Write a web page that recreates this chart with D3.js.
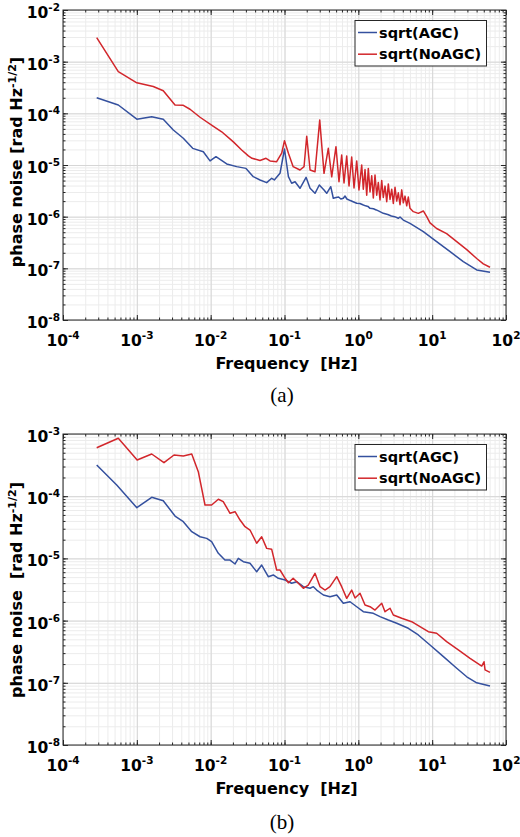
<!DOCTYPE html>
<html>
<head>
<meta charset="utf-8">
<script src="https://cdn.jsdelivr.net/npm/d3@7"></script>
<style>
  body { margin: 0; background: #fff; }
  svg text { font-family: "DejaVu Sans", sans-serif; font-weight: bold; fill: #000; white-space: pre; }
  .grid path.domain, .ticks path.domain { display: none; }
  .grid.minor line { stroke: #ececec; }
  .grid.major line { stroke: #d6d6d6; }
  .ticks line { stroke: #262626; }
</style>
</head>
<body>
<div id="chart"></div>
<script>
const WIDTH = 520, HEIGHT = 837;

// axis ticks
const xTicks = [1e-4, 1e-3, 1e-2, 1e-1, 1e0, 1e1, 1e2];
const xTickExp = ['-4', '-3', '-2', '-1', '0', '1', '2'];
const yTicksA = [1e-8, 1e-7, 1e-6, 1e-5, 1e-4, 1e-3, 1e-2];
const yTickExpA = ['-8', '-7', '-6', '-5', '-4', '-3', '-2'];
const yTicksB = [1e-8, 1e-7, 1e-6, 1e-5, 1e-4, 1e-3];
const yTickExpB = ['-8', '-7', '-6', '-5', '-4', '-3'];

const seriesNames = ['sqrt(AGC)', 'sqrt(NoAGC)'];
const seriesColors = ['#34509e', '#d2262b'];

// panel (a), AGC
const freqAgcA = [2.86e-4, 5.61e-4, 1.0e-3, 1.59e-3, 2.28e-3, 3.12e-3, 4.26e-3, 5.71e-3, 7.95e-3, 9.8e-3,
  1.18e-2, 1.65e-2, 2.25e-2, 3.01e-2, 3.78e-2, 4.66e-2, 5.74e-2, 6.71e-2, 7.28e-2, 8.69e-2,
  0.100, 0.113, 0.125, 0.139, 0.162, 0.196, 0.222, 0.259, 0.296, 0.343,
  0.373, 0.423, 0.458, 0.50, 0.54, 0.58, 0.626, 0.66, 0.70, 0.78,
  0.85, 0.951, 1.05, 1.15, 1.25, 1.35, 1.44, 1.6, 1.75, 1.9,
  2.179, 2.5, 2.8, 3.1, 3.479, 3.669, 4.067, 5.01, 7.59, 11.5,
  17.5, 26.4, 40.1, 60.7];
const agcA = [2.01e-4, 1.45e-4, 7.7e-5, 8.6e-5, 7.7e-5, 4.76e-5, 3.29e-5, 2.1e-5, 1.81e-5, 1.2e-5,
  1.45e-5, 1.05e-5, 9.3e-6, 8.6e-6, 5.94e-6, 5.13e-6, 4.55e-6, 5.53e-6, 5.13e-6, 6.91e-6,
  2.04e-5, 5.94e-6, 4.43e-6, 4.75e-6, 3.54e-6, 5.78e-6, 3.54e-6, 2.83e-6, 4.1e-6, 3.28e-6,
  2.83e-6, 3.8e-6, 2.27e-6, 2.35e-6, 2.4e-6, 2.2e-6, 2.27e-6, 2.51e-6, 2.2e-6, 2.05e-6,
  1.95e-6, 1.82e-6, 1.8e-6, 1.7e-6, 1.62e-6, 1.58e-6, 1.45e-6, 1.42e-6, 1.35e-6, 1.28e-6,
  1.16e-6, 1.1e-6, 1.03e-6, 1.0e-6, 9.3e-7, 9.86e-7, 8.6e-7, 7.4e-7, 5.12e-7, 3.28e-7,
  2.1e-7, 1.35e-7, 9.3e-8, 8.4e-8];

// panel (a), NoAGC
const freqNoAgcA = [2.86e-4, 5.61e-4, 1.0e-3, 1.67e-3, 2.28e-3, 3.29e-3, 4.26e-3, 5.25e-3, 7.18e-3, 1.09e-2,
  1.41e-2, 2.03e-2, 2.63e-2, 3.24e-2, 3.63e-2, 4.66e-2, 5.62e-2, 6.37e-2, 7.83e-2, 9.16e-2,
  0.100, 0.113, 0.131, 0.162, 0.184, 0.200, 0.222, 0.259, 0.300, 0.343,
  0.392, 0.436, 0.498, 0.547, 0.595, 0.640, 0.696, 0.748, 0.813, 0.874,
  0.951, 1.02, 1.111, 1.168, 1.232, 1.299, 1.365, 1.44, 1.518, 1.596,
  1.682, 1.774, 1.865, 1.966, 2.074, 2.179, 2.298, 2.424, 2.548, 2.687,
  2.833, 2.978, 3.14, 3.311, 3.479, 3.669, 3.869, 4.067, 4.289, 4.522,
  4.753, 5.01, 5.56, 6.49, 7.59, 8.44, 9.35, 11.5, 15.7, 21.5,
  29.4, 40.1, 49.3, 60.7];
const noAgcA = [2.91e-3, 6.4e-4, 3.9e-4, 3.3e-4, 2.74e-4, 1.45e-4, 1.43e-4, 1.2e-4, 8.4e-5, 5.6e-5,
  4.4e-5, 2.8e-5, 1.95e-5, 1.5e-5, 1.35e-5, 1.22e-5, 1.35e-5, 1.2e-5, 1.16e-5, 1.69e-5,
  2.95e-5, 1.69e-5, 9.3e-6, 8.0e-6, 9.3e-6, 3.6e-5, 8.0e-6, 7.4e-6, 7.4e-5, 6.9e-6,
  2.1e-5, 5.9e-6, 2.26e-5, 4.75e-6, 1.56e-5, 4.49e-6, 1.49e-5, 3.93e-6, 1.43e-5, 3.59e-6,
  1.2e-5, 3.28e-6, 1.0e-5, 3.4e-6, 8.2e-6, 2.6e-6, 8.6e-6, 3.0e-6, 6.2e-6, 2.3e-6,
  6.4e-6, 2.6e-6, 4.6e-6, 2.1e-6, 5.0e-6, 2.35e-6, 3.9e-6, 1.95e-6, 4.3e-6, 2.15e-6,
  3.4e-6, 1.8e-6, 3.7e-6, 2.0e-6, 2.9e-6, 1.7e-6, 3.3e-6, 1.85e-6, 2.5e-6, 1.62e-6,
  2.4e-6, 1.45e-6, 1.25e-6, 1.16e-6, 1.29e-6, 1.0e-6, 7.6e-7, 5.9e-7, 4.7e-7, 3.3e-7,
  2.3e-7, 1.55e-7, 1.22e-7, 1.05e-7];

// panel (b), AGC
const freqAgcB = [2.86e-4, 5.34e-4, 1.0e-3, 1.59e-3, 2.28e-3, 3.29e-3, 4.26e-3, 5.54e-3, 7.18e-3, 8.84e-3,
  1.03e-2, 1.27e-2, 1.56e-2, 1.83e-2, 2.14e-2, 2.37e-2, 2.77e-2, 3.41e-2, 4.2e-2, 4.91e-2,
  6.03e-2, 7.05e-2, 8.25e-2, 0.102, 0.125, 0.146, 0.18, 0.222, 0.246, 0.273,
  0.336, 0.413, 0.51, 0.626, 0.772, 0.951, 1.168, 1.596, 1.966, 2.548,
  3.311, 4.753, 6.49, 9.35, 14.2, 21.5, 29.4, 40.1, 60.7];
const agcB = [3.17e-4, 1.51e-4, 6.53e-5, 9.6e-5, 8.46e-5, 4.8e-5, 3.89e-5, 2.69e-5, 2.23e-5, 2.1e-5,
  1.86e-5, 1.21e-5, 9.4e-6, 9.4e-6, 8.13e-6, 1.0e-5, 8.85e-6, 8.34e-6, 6.11e-6, 7.83e-6,
  5.08e-6, 5.41e-6, 4.79e-6, 4.5e-6, 3.98e-6, 4.22e-6, 3.51e-6, 3.31e-6, 3.51e-6, 3.1e-6,
  2.58e-6, 2.42e-6, 2.58e-6, 1.9e-6, 2.01e-6, 1.67e-6, 1.39e-6, 1.31e-6, 1.16e-6, 1.02e-6,
  9.05e-7, 7.52e-7, 5.87e-7, 4.05e-7, 2.63e-7, 1.71e-7, 1.25e-7, 1.0e-7, 8.9e-8];

// panel (b), NoAGC
const freqNoAgcB = [2.86e-4, 5.61e-4, 1.01e-3, 1.59e-3, 2.33e-3, 3.19e-3, 4.26e-3, 5.54e-3, 6.8e-3, 8.38e-3,
  1.03e-2, 1.27e-2, 1.48e-2, 1.83e-2, 2.14e-2, 2.5e-2, 2.92e-2, 3.41e-2, 4.2e-2, 4.91e-2,
  5.74e-2, 6.71e-2, 7.83e-2, 8.69e-2, 0.102, 0.113, 0.131, 0.154, 0.18, 0.21,
  0.259, 0.303, 0.354, 0.413, 0.51, 0.595, 0.696, 0.813, 0.902, 1.054,
  1.232, 1.44, 1.682, 2.074, 2.298, 2.687, 2.978, 3.869, 5.28, 6.84,
  8.87, 11.5, 15.7, 22.6, 32.6, 46.9, 50.4, 52.0, 60.7];
const noAgcB = [6.02e-4, 8.53e-4, 3.82e-4, 4.77e-4, 3.46e-4, 4.6e-4, 4.43e-4, 4.77e-4, 2.48e-4, 7.22e-5,
  7.22e-5, 8.92e-5, 8.16e-5, 5.31e-5, 5.63e-5, 4.14e-5, 3.23e-5, 2.86e-5, 1.75e-5, 2.23e-5,
  1.45e-5, 1.4e-5, 6.51e-6, 6.51e-6, 4.79e-6, 4.07e-6, 4.79e-6, 3.98e-6, 3.31e-6, 3.73e-6,
  5.76e-6, 3.51e-6, 3.1e-6, 3.51e-6, 5.08e-6, 3.51e-6, 2.28e-6, 3.1e-6, 2.31e-6, 2.75e-6,
  1.78e-6, 1.67e-6, 1.48e-6, 1.9e-6, 1.39e-6, 1.58e-6, 1.23e-6, 1.09e-6, 9.6e-7, 7.98e-7,
  6.63e-7, 6.25e-7, 4.58e-7, 3.37e-7, 2.48e-7, 1.86e-7, 2.18e-7, 1.61e-7, 1.47e-7];

const svg = d3.select('#chart').append('svg')
  .attr('width', WIDTH)
  .attr('height', HEIGHT);

function drawPanel(p) {
  const x = d3.scaleLog()
    .domain([xTicks[0], xTicks[xTicks.length - 1]])
    .range([p.left, p.right]);
  const y = d3.scaleLog()
    .domain([p.yTicks[0], p.yTicks[p.yTicks.length - 1]])
    .range([p.bottom, p.top]);
  const pw = p.right - p.left, ph = p.bottom - p.top;
  const g = svg.append('g');

  // grid, minor then major
  g.append('g').attr('class', 'grid minor')
    .attr('transform', `translate(0,${p.bottom})`)
    .call(d3.axisBottom(x).tickValues(x.ticks()).tickSize(-ph).tickFormat(''));
  g.append('g').attr('class', 'grid minor')
    .attr('transform', `translate(${p.left},0)`)
    .call(d3.axisLeft(y).tickValues(y.ticks()).tickSize(-pw).tickFormat(''));
  g.append('g').attr('class', 'grid major')
    .attr('transform', `translate(0,${p.bottom})`)
    .call(d3.axisBottom(x).tickValues(xTicks).tickSize(-ph).tickFormat(''));
  g.append('g').attr('class', 'grid major')
    .attr('transform', `translate(${p.left},0)`)
    .call(d3.axisLeft(y).tickValues(p.yTicks).tickSize(-pw).tickFormat(''));

  // curves
  const line = d3.line().x(d => x(d[0])).y(d => y(d[1]));
  p.series.forEach((s, i) => {
    g.append('path')
      .datum(d3.zip(s.freq, s.val))
      .attr('fill', 'none')
      .attr('stroke', seriesColors[i])
      .attr('stroke-width', 1.5)
      .attr('stroke-linejoin', 'round')
      .attr('d', line);
  });

  // inward ticks on all four sides
  const sides = [
    [d3.axisBottom, x, xTicks, `translate(0,${p.bottom})`],
    [d3.axisTop, x, xTicks, `translate(0,${p.top})`],
    [d3.axisLeft, y, p.yTicks, `translate(${p.left},0)`],
    [d3.axisRight, y, p.yTicks, `translate(${p.right},0)`]
  ];
  sides.forEach(([axis, sc, major, tr]) => {
    g.append('g').attr('class', 'ticks').attr('transform', tr)
      .call(axis(sc).tickValues(sc.ticks()).tickSize(-2.5).tickFormat(''));
    g.append('g').attr('class', 'ticks').attr('transform', tr)
      .call(axis(sc).tickValues(major).tickSize(-5).tickFormat(''));
  });

  // box
  g.append('rect')
    .attr('x', p.left).attr('y', p.top)
    .attr('width', pw).attr('height', ph)
    .attr('fill', 'none')
    .attr('stroke', '#262626')
    .attr('stroke-width', 1);

  // x tick labels
  xTicks.forEach((t, i) => {
    const txt = g.append('text')
      .attr('x', x(t)).attr('y', p.bottom + 26)
      .attr('text-anchor', 'middle')
      .attr('font-size', '15.5px');
    txt.append('tspan').text('10');
    txt.append('tspan').attr('dy', -7).attr('font-size', '10.5px').text(xTickExp[i]);
  });
  // y tick labels
  p.yTicks.forEach((t, i) => {
    const txt = g.append('text')
      .attr('x', p.left - 3).attr('y', y(t) + 8)
      .attr('text-anchor', 'end')
      .attr('font-size', '15.5px');
    txt.append('tspan').text('10');
    txt.append('tspan').attr('dy', -7).attr('font-size', '10.5px').text(p.yTickExp[i]);
  });

  // axis titles
  g.append('text')
    .attr('x', (p.left + p.right) / 2 + 2).attr('y', p.bottom + 48.5)
    .attr('text-anchor', 'middle')
    .attr('font-size', '16px')
    .text('Frequency  [Hz]');

  const yl = g.append('text')
    .attr('transform', `translate(22,${p.yLabelY}) rotate(-90)`)
    .attr('text-anchor', 'middle')
    .attr('font-size', '16px');
  yl.append('tspan').text(p.yLabel);
  yl.append('tspan').attr('dy', -6).attr('font-size', '11px').text('-1/2');
  yl.append('tspan').attr('dy', 6).text(']');

  // legend
  const lg = g.append('g').attr('transform', `translate(355,${p.top + 10.5})`);
  lg.append('rect')
    .attr('width', 131.5).attr('height', 45.5)
    .attr('fill', '#fff')
    .attr('stroke', '#262626')
    .attr('stroke-width', 1);
  seriesNames.forEach((name, i) => {
    const row = lg.append('g').attr('transform', `translate(0,${12 + i * 21.7})`);
    row.append('line')
      .attr('x1', 3).attr('x2', 22)
      .attr('stroke', seriesColors[i])
      .attr('stroke-width', 1.5);
    row.append('text')
      .attr('x', 24).attr('y', 5)
      .attr('font-size', '14.5px')
      .text(name);
  });

  // sub-caption
  g.append('text')
    .attr('x', 282).attr('y', p.captionY)
    .attr('text-anchor', 'middle')
    .style('font-family', '"Liberation Serif", serif')
    .style('font-weight', 'normal')
    .attr('font-size', '21px')
    .text(p.caption);
}

drawPanel({
  left: 63, right: 506, top: 10, bottom: 320,
  yTicks: yTicksA, yTickExp: yTickExpA,
  yLabel: 'phase noise [rad Hz', yLabelY: 162,
  caption: '(a)', captionY: 402,
  series: [{freq: freqAgcA, val: agcA}, {freq: freqNoAgcA, val: noAgcA}]
});

drawPanel({
  left: 63, right: 506, top: 434, bottom: 745,
  yTicks: yTicksB, yTickExp: yTickExpB,
  yLabel: 'phase noise  [rad Hz', yLabelY: 590,
  caption: '(b)', captionY: 829,
  series: [{freq: freqAgcB, val: agcB}, {freq: freqNoAgcB, val: noAgcB}]
});
</script>
</body>
</html>
